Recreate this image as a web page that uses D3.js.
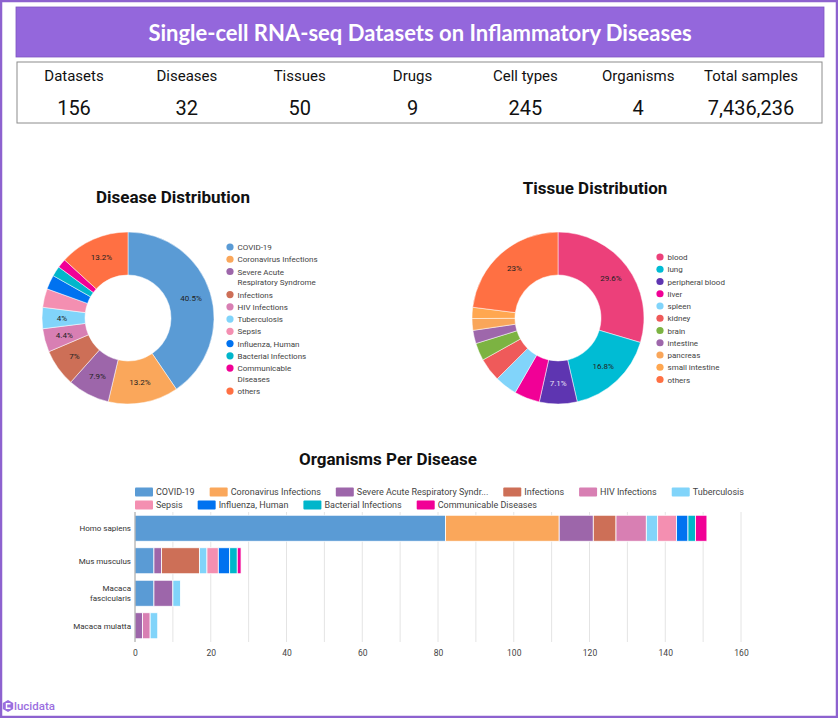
<!DOCTYPE html>
<html>
<head>
<meta charset="utf-8">
<script src="https://cdn.jsdelivr.net/npm/d3@7"></script>
<style>
	body { margin: 0; background: #fff; }
	svg text { font-family: Roboto, "Noto Sans", sans-serif; }
</style>
</head>
<body>
<div id="chart"></div>
<script>
"use strict"

// ---- numbers ----
const statLabels = ["Datasets", "Diseases", "Tissues", "Drugs", "Cell types", "Organisms", "Total samples"];
const statValues = [156, 32, 50, 9, 245, 4, 7436236];

const diseaseNames = ["COVID-19", "Coronavirus Infections", "Severe Acute Respiratory Syndrome", "Infections",
	"HIV Infections", "Tuberculosis", "Sepsis", "Influenza, Human", "Bacterial Infections", "Communicable Diseases", "others"];
const diseaseShare = [40.5, 13.2, 7.9, 7.0, 4.4, 4.0, 3.5, 2.7, 1.9, 1.7, 13.2];
const diseaseColors = ["#5a9bd5", "#faa75b", "#9d66aa", "#cd6f57", "#d87fb3", "#81d4fa", "#f48fb1",
	"#0072f0", "#00b6cb", "#f10096", "#ff7043"];

const tissueNames = ["blood", "lung", "peripheral blood", "liver", "spleen", "kidney", "brain",
	"intestine", "pancreas", "small intestine", "others"];
const tissueShare = [29.6, 16.8, 7.1, 4.8, 4.2, 4.4, 3.3, 2.5, 2.2, 2.1, 23.0];
const tissueColors = ["#ec407a", "#00bcd4", "#5e35b1", "#f10096", "#81d4fa", "#ef5a5a", "#7cb342",
	"#9e67ab", "#f9a65a", "#ffa750", "#ff7043"];

// datasets per organism, one value per disease (first ten diseases above)
const organisms = ["Homo sapiens", "Mus musculus", "Macaca fascicularis", "Macaca mulatta"];
const homoSapiens = [82, 30, 9, 6, 8, 3, 5, 3, 2, 3];
const musMusculus = [5, 0, 2, 10, 0, 2, 3, 3, 2, 1];
const macacaFascicularis = [5, 0, 5, 0, 0, 2, 0, 0, 0, 0];
const macacaMulatta = [0, 0, 2, 0, 2, 2, 0, 0, 0, 0];
const xTicks = [0, 20, 40, 60, 80, 100, 120, 140, 160];

const W = 838, H = 718;

let svg = d3.select("#chart").append("svg")
	.attr("width", W)
	.attr("height", H);

drawFrame();
drawStats();
drawDonut({
	title: "Disease Distribution", titleX: 173, titleY: 203,
	names: diseaseNames, values: diseaseShare, colors: diseaseColors,
	cx: 128, cy: 318, legendX: 230, legendY: 247, wrapWidth: 84, minLabel: 3.95
});
drawDonut({
	title: "Tissue Distribution", titleX: 595, titleY: 194,
	names: tissueNames, values: tissueShare, colors: tissueColors,
	cx: 558, cy: 318, legendX: 660, legendY: 257, wrapWidth: 120, minLabel: 5
});
drawBars();

function drawFrame() {
	svg.append("rect")
		.attr("x", 1).attr("y", 1)
		.attr("width", W - 2).attr("height", H - 2)
		.attr("fill", "#fff")
		.attr("stroke", "#8d62cf")
		.attr("stroke-width", 2.5);

	svg.append("rect")
		.attr("x", 16).attr("y", 7)
		.attr("width", 808).attr("height", 50)
		.attr("fill", "#9467dc")
		.attr("stroke", "#7d55c0")
		.attr("stroke-width", 0.8);

	svg.append("text")
		.attr("x", 420).attr("y", 32)
		.attr("text-anchor", "middle")
		.attr("dominant-baseline", "central")
		.style("font-family", "Lato, 'Open Sans', sans-serif")
		.style("font-weight", 700)
		.style("font-size", "22px")
		.attr("fill", "#fff")
		.text("Single-cell RNA-seq Datasets on Inflammatory Diseases");

	// logo
	let logo = svg.append("g").attr("transform", "translate(8,706)");
	let hex = d3.range(6).map(i => {
		let a = Math.PI / 3 * i + Math.PI / 6;
		return [6 * Math.cos(a), 6 * Math.sin(a)];
	});
	logo.append("path")
		.attr("d", "M" + hex.join("L") + "Z")
		.attr("fill", "#9b6fe0");
	logo.append("path")
		.attr("d", "M2.5,-2.2 L-1.5,-2.2 L-1.5,2.2 L2.5,2.2")
		.attr("fill", "none")
		.attr("stroke", "#fff")
		.attr("stroke-width", 1.4);
	svg.append("text")
		.attr("x", 14).attr("y", 706)
		.attr("dominant-baseline", "central")
		.style("font-size", "11.5px")
		.style("font-weight", 500)
		.attr("fill", "#9b6fe0")
		.text("lucidata");
}

function drawStats() {
	svg.append("rect")
		.attr("x", 17).attr("y", 62)
		.attr("width", 805).attr("height", 61)
		.attr("fill", "#fff")
		.attr("stroke", "#8c8c8c")
		.attr("stroke-width", 1);

	let xs = d3.scalePoint().domain(statLabels).range([74, 751]);
	let fmt = d3.format(",");

	let cells = svg.append("g").attr("class", "stats").selectAll("g")
		.data(statLabels)
		.enter().append("g")
			.attr("transform", d => `translate(${xs(d)},0)`);

	cells.append("text")
		.attr("y", 76)
		.attr("text-anchor", "middle")
		.attr("dominant-baseline", "central")
		.style("font-size", "15px")
		.attr("fill", "#111")
		.text(d => d);

	cells.append("text")
		.attr("y", 108)
		.attr("text-anchor", "middle")
		.attr("dominant-baseline", "central")
		.style("font-size", "20px")
		.attr("fill", "#111")
		.text((d, i) => fmt(statValues[i]));
}

// write label into a text element, breaking words onto new lines; returns line count
function wrapText(textSel, label, maxW, lineH) {
	let words = label.split(" ");
	let x = textSel.attr("x");
	let line = [];
	let lines = 1;
	let tspan = textSel.append("tspan").attr("x", x).attr("dy", 0);
	words.forEach(w => {
		line.push(w);
		tspan.text(line.join(" "));
		if (tspan.node().getComputedTextLength() > maxW && line.length > 1) {
			line.pop();
			tspan.text(line.join(" "));
			line = [w];
			tspan = textSel.append("tspan").attr("x", x).attr("dy", lineH).text(w);
			lines++;
		}
	});
	return lines;
}

function isDark(c) {
	let rgb = d3.rgb(c);
	return (0.299 * rgb.r + 0.587 * rgb.g + 0.114 * rgb.b) < 110;
}

function drawDonut(o) {
	let g = svg.append("g");
	let rOuter = 86, rInner = 43;

	g.append("text")
		.attr("x", o.titleX).attr("y", o.titleY)
		.attr("text-anchor", "middle")
		.style("font-size", "17px")
		.style("font-weight", 700)
		.attr("fill", "#111")
		.text(o.title);

	let total = d3.sum(o.values);
	let pie = d3.pie().sort(null).value(d => d)(o.values);
	let arc = d3.arc().innerRadius(rInner).outerRadius(rOuter);
	let labelArc = d3.arc().innerRadius(66).outerRadius(66);

	let slices = g.append("g")
		.attr("transform", `translate(${o.cx},${o.cy})`);

	slices.selectAll("path")
		.data(pie)
		.enter().append("path")
			.attr("d", arc)
			.attr("fill", (d, i) => o.colors[i])
			.attr("stroke", "#fff")
			.attr("stroke-width", 0.5);

	slices.selectAll("text")
		.data(pie.filter(d => d.value / total * 100 >= o.minLabel))
		.enter().append("text")
			.attr("transform", d => `translate(${labelArc.centroid(d)})`)
			.attr("text-anchor", "middle")
			.attr("dominant-baseline", "central")
			.style("font-size", "8px")
			.attr("fill", d => isDark(o.colors[d.index]) ? "#e8e0f5" : "#222")
			.text(d => d3.format("~")(+(d.value / total * 100).toFixed(1)) + "%");

	// legend
	let lg = g.append("g").attr("class", "legend");
	let y = o.legendY;
	o.names.forEach((name, i) => {
		lg.append("circle")
			.attr("cx", o.legendX).attr("cy", y)
			.attr("r", 3.6)
			.attr("fill", o.colors[i]);
		let t = lg.append("text")
			.attr("x", o.legendX + 7.5).attr("y", y)
			.attr("dominant-baseline", "central")
			.style("font-size", "8px")
			.attr("fill", "#444");
		let n = wrapText(t, name, o.wrapWidth, 10.8);
		y += 12.25 + (n - 1) * 10.8;
	});
}

function drawBars() {
	let g = svg.append("g");
	let rows = [homoSapiens, musMusculus, macacaFascicularis, macacaMulatta];
	let keys = diseaseNames.slice(0, 10);

	g.append("text")
		.attr("x", 388).attr("y", 465)
		.attr("text-anchor", "middle")
		.style("font-size", "17px")
		.style("font-weight", 700)
		.attr("fill", "#111")
		.text("Organisms Per Disease");

	// legend, flowing left to right
	let maxRight = 748, lx = 135, ly = 492;
	let lg = g.append("g").attr("class", "bar_legend");
	keys.forEach((k, i) => {
		let item = lg.append("g");
		let t = item.append("text")
			.attr("x", 21)
			.attr("dominant-baseline", "central")
			.style("font-size", "9px")
			.attr("fill", "#444")
			.text(k);
		let label = k;
		while (t.node().getComputedTextLength() > 134) {
			label = label.slice(0, -1);
			t.text(label.trim() + "...");
		}
		let w = 21 + t.node().getComputedTextLength();
		if (lx + w > maxRight) {
			lx = 135;
			ly += 13;
		}
		item.attr("transform", `translate(${lx},${ly})`);
		item.append("rect")
			.attr("x", 0).attr("y", -4.5)
			.attr("width", 18).attr("height", 9)
			.attr("rx", 1)
			.attr("fill", diseaseColors[i]);
		lx += w + 15;
	});

	let xScale = d3.scaleLinear().domain([0, 160]).range([135, 741]);
	let yScale = d3.scaleBand().domain(organisms).range([512, 642]).paddingInner(0.2).paddingOuter(0.1);

	// grid every 10
	g.append("g").attr("class", "grid").selectAll("line")
		.data(d3.range(10, 161, 10))
		.enter().append("line")
			.attr("x1", d => xScale(d)).attr("x2", d => xScale(d))
			.attr("y1", 512).attr("y2", 642)
			.attr("stroke", "#e4e4e4")
			.attr("stroke-width", 1);

	let table = organisms.map((org, r) => {
		let obj = { organism: org };
		keys.forEach((k, i) => obj[k] = rows[r][i]);
		return obj;
	});
	let series = d3.stack().keys(keys)(table);

	g.append("g").attr("class", "bars").selectAll("g")
		.data(series)
		.enter().append("g")
			.attr("fill", (d, i) => diseaseColors[i])
		.selectAll("rect")
		.data(d => d.filter(s => s[1] > s[0]))
		.enter().append("rect")
			.attr("x", d => xScale(d[0]))
			.attr("width", d => xScale(d[1]) - xScale(d[0]))
			.attr("y", d => yScale(d.data.organism))
			.attr("height", yScale.bandwidth())
			.attr("stroke", "#fff")
			.attr("stroke-width", 0.8);

	g.append("line")
		.attr("x1", xScale(0)).attr("x2", xScale(0))
		.attr("y1", 512).attr("y2", 642)
		.attr("stroke", "#9a9a9a")
		.attr("stroke-width", 1);

	let xAxis = g.append("g")
		.attr("transform", "translate(0,642)")
		.call(d3.axisBottom(xScale).tickValues(xTicks).tickSize(0).tickPadding(8));
	xAxis.select(".domain").remove();
	xAxis.selectAll("text")
		.style("font-size", "8.5px")
		.style("font-family", "Roboto, sans-serif")
		.attr("fill", "#444");

	// row labels, wrapped when long
	organisms.forEach(org => {
		let t = g.append("text")
			.attr("x", 131)
			.attr("text-anchor", "end")
			.attr("dominant-baseline", "central")
			.style("font-size", "8px")
			.attr("fill", "#333");
		let n = wrapText(t, org, 66, 10);
		t.attr("y", yScale(org) + yScale.bandwidth() / 2 - (n - 1) * 5);
	});
}
</script>
</body>
</html>
